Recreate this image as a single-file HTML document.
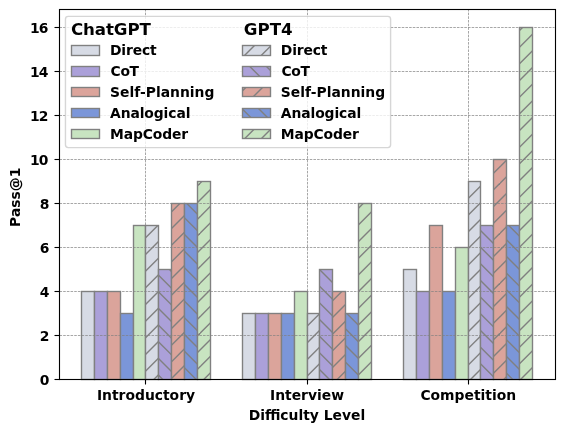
<!DOCTYPE html>
<html lang="en"><head><meta charset="utf-8"><title>Pass@1 by Difficulty Level</title>
<style>html,body{margin:0;padding:0;background:#fff}svg{display:block}</style></head>
<body>
<svg width="564" height="432" viewBox="0 0 564 432">
<defs><pattern id="hf" patternUnits="userSpaceOnUse" x="0" y="0" width="100" height="100"><g stroke="#808080" stroke-width="1.3889" stroke-linecap="square" fill="none"><line x1="-6.667" y1="-10.000" x2="-126.667" y2="110.000"/><line x1="10.000" y1="-10.000" x2="-110.000" y2="110.000"/><line x1="26.667" y1="-10.000" x2="-93.333" y2="110.000"/><line x1="43.333" y1="-10.000" x2="-76.667" y2="110.000"/><line x1="60.000" y1="-10.000" x2="-60.000" y2="110.000"/><line x1="76.667" y1="-10.000" x2="-43.333" y2="110.000"/><line x1="93.333" y1="-10.000" x2="-26.667" y2="110.000"/><line x1="110.000" y1="-10.000" x2="-10.000" y2="110.000"/><line x1="126.667" y1="-10.000" x2="6.667" y2="110.000"/><line x1="143.333" y1="-10.000" x2="23.333" y2="110.000"/><line x1="160.000" y1="-10.000" x2="40.000" y2="110.000"/><line x1="176.667" y1="-10.000" x2="56.667" y2="110.000"/><line x1="193.333" y1="-10.000" x2="73.333" y2="110.000"/><line x1="210.000" y1="-10.000" x2="90.000" y2="110.000"/><line x1="226.667" y1="-10.000" x2="106.667" y2="110.000"/></g></pattern><pattern id="hb" patternUnits="userSpaceOnUse" x="0" y="0" width="100" height="100"><g stroke="#808080" stroke-width="1.3889" stroke-linecap="square" fill="none"><line x1="-10.000" y1="-126.667" x2="110.000" y2="-6.667"/><line x1="-10.000" y1="-110.000" x2="110.000" y2="10.000"/><line x1="-10.000" y1="-93.333" x2="110.000" y2="26.667"/><line x1="-10.000" y1="-76.667" x2="110.000" y2="43.333"/><line x1="-10.000" y1="-60.000" x2="110.000" y2="60.000"/><line x1="-10.000" y1="-43.333" x2="110.000" y2="76.667"/><line x1="-10.000" y1="-26.667" x2="110.000" y2="93.333"/><line x1="-10.000" y1="-10.000" x2="110.000" y2="110.000"/><line x1="-10.000" y1="6.667" x2="110.000" y2="126.667"/><line x1="-10.000" y1="23.333" x2="110.000" y2="143.333"/><line x1="-10.000" y1="40.000" x2="110.000" y2="160.000"/><line x1="-10.000" y1="56.667" x2="110.000" y2="176.667"/><line x1="-10.000" y1="73.333" x2="110.000" y2="193.333"/><line x1="-10.000" y1="90.000" x2="110.000" y2="210.000"/><line x1="-10.000" y1="106.667" x2="110.000" y2="226.667"/></g></pattern>
<clipPath id="axc"><rect x="58.518" y="9.122" width="496.000" height="369.600"/></clipPath></defs>
<rect width="564" height="432" fill="#fff"/>
<g stroke="#808080" stroke-width="1.3889" stroke-linejoin="miter"><rect x="81.5" y="291.5" width="13.0" height="88.0" fill="#d7dbe5"/><rect x="94.5" y="291.5" width="13.0" height="88.0" fill="#aba0d9"/><rect x="107.5" y="291.5" width="13.0" height="88.0" fill="#dba49b"/><rect x="120.5" y="313.5" width="13.0" height="66.0" fill="#7b96d9"/><rect x="133.5" y="225.5" width="12.0" height="154.0" fill="#c8e4c1"/><rect x="145.5" y="225.5" width="13.0" height="154.0" fill="#d7dbe5" stroke="none"/><rect x="145.5" y="225.5" width="13.0" height="154.0" fill="url(#hf)" stroke="none"/><rect x="145.5" y="225.5" width="13.0" height="154.0" fill="none"/><rect x="158.5" y="269.5" width="13.0" height="110.0" fill="#aba0d9" stroke="none"/><rect x="158.5" y="269.5" width="13.0" height="110.0" fill="url(#hb)" stroke="none"/><rect x="158.5" y="269.5" width="13.0" height="110.0" fill="none"/><rect x="171.5" y="203.5" width="13.0" height="176.0" fill="#dba49b" stroke="none"/><rect x="171.5" y="203.5" width="13.0" height="176.0" fill="url(#hf)" stroke="none"/><rect x="171.5" y="203.5" width="13.0" height="176.0" fill="none"/><rect x="184.5" y="203.5" width="13.0" height="176.0" fill="#7b96d9" stroke="none"/><rect x="184.5" y="203.5" width="13.0" height="176.0" fill="url(#hb)" stroke="none"/><rect x="184.5" y="203.5" width="13.0" height="176.0" fill="none"/><rect x="197.5" y="181.5" width="13.0" height="198.0" fill="#c8e4c1" stroke="none"/><rect x="197.5" y="181.5" width="13.0" height="198.0" fill="url(#hf)" stroke="none"/><rect x="197.5" y="181.5" width="13.0" height="198.0" fill="none"/><rect x="242.5" y="313.5" width="13.0" height="66.0" fill="#d7dbe5"/><rect x="255.5" y="313.5" width="13.0" height="66.0" fill="#aba0d9"/><rect x="268.5" y="313.5" width="13.0" height="66.0" fill="#dba49b"/><rect x="281.5" y="313.5" width="13.0" height="66.0" fill="#7b96d9"/><rect x="294.5" y="291.5" width="13.0" height="88.0" fill="#c8e4c1"/><rect x="307.5" y="313.5" width="12.0" height="66.0" fill="#d7dbe5" stroke="none"/><rect x="307.5" y="313.5" width="12.0" height="66.0" fill="url(#hf)" stroke="none"/><rect x="307.5" y="313.5" width="12.0" height="66.0" fill="none"/><rect x="319.5" y="269.5" width="13.0" height="110.0" fill="#aba0d9" stroke="none"/><rect x="319.5" y="269.5" width="13.0" height="110.0" fill="url(#hb)" stroke="none"/><rect x="319.5" y="269.5" width="13.0" height="110.0" fill="none"/><rect x="332.5" y="291.5" width="13.0" height="88.0" fill="#dba49b" stroke="none"/><rect x="332.5" y="291.5" width="13.0" height="88.0" fill="url(#hf)" stroke="none"/><rect x="332.5" y="291.5" width="13.0" height="88.0" fill="none"/><rect x="345.5" y="313.5" width="13.0" height="66.0" fill="#7b96d9" stroke="none"/><rect x="345.5" y="313.5" width="13.0" height="66.0" fill="url(#hb)" stroke="none"/><rect x="345.5" y="313.5" width="13.0" height="66.0" fill="none"/><rect x="358.5" y="203.5" width="13.0" height="176.0" fill="#c8e4c1" stroke="none"/><rect x="358.5" y="203.5" width="13.0" height="176.0" fill="url(#hf)" stroke="none"/><rect x="358.5" y="203.5" width="13.0" height="176.0" fill="none"/><rect x="403.5" y="269.5" width="13.0" height="110.0" fill="#d7dbe5"/><rect x="416.5" y="291.5" width="13.0" height="88.0" fill="#aba0d9"/><rect x="429.5" y="225.5" width="13.0" height="154.0" fill="#dba49b"/><rect x="442.5" y="291.5" width="13.0" height="88.0" fill="#7b96d9"/><rect x="455.5" y="247.5" width="13.0" height="132.0" fill="#c8e4c1"/><rect x="468.5" y="181.5" width="12.0" height="198.0" fill="#d7dbe5" stroke="none"/><rect x="468.5" y="181.5" width="12.0" height="198.0" fill="url(#hf)" stroke="none"/><rect x="468.5" y="181.5" width="12.0" height="198.0" fill="none"/><rect x="480.5" y="225.5" width="13.0" height="154.0" fill="#aba0d9" stroke="none"/><rect x="480.5" y="225.5" width="13.0" height="154.0" fill="url(#hb)" stroke="none"/><rect x="480.5" y="225.5" width="13.0" height="154.0" fill="none"/><rect x="493.5" y="159.5" width="13.0" height="220.0" fill="#dba49b" stroke="none"/><rect x="493.5" y="159.5" width="13.0" height="220.0" fill="url(#hf)" stroke="none"/><rect x="493.5" y="159.5" width="13.0" height="220.0" fill="none"/><rect x="506.5" y="225.5" width="13.0" height="154.0" fill="#7b96d9" stroke="none"/><rect x="506.5" y="225.5" width="13.0" height="154.0" fill="url(#hb)" stroke="none"/><rect x="506.5" y="225.5" width="13.0" height="154.0" fill="none"/><rect x="519.5" y="27.5" width="13.0" height="352.0" fill="#c8e4c1" stroke="none"/><rect x="519.5" y="27.5" width="13.0" height="352.0" fill="url(#hf)" stroke="none"/><rect x="519.5" y="27.5" width="13.0" height="352.0" fill="none"/></g>
<g clip-path="url(#axc)" stroke="#808080" stroke-width="0.6944" stroke-dasharray="2.569 1.111" fill="none"><line x1="145.5" y1="379.5" x2="145.5" y2="9.5"/><line x1="307.5" y1="379.5" x2="307.5" y2="9.5"/><line x1="468.5" y1="379.5" x2="468.5" y2="9.5"/><line x1="59.5" y1="379.5" x2="555.5" y2="379.5"/><line x1="59.5" y1="335.5" x2="555.5" y2="335.5"/><line x1="59.5" y1="291.5" x2="555.5" y2="291.5"/><line x1="59.5" y1="247.5" x2="555.5" y2="247.5"/><line x1="59.5" y1="203.5" x2="555.5" y2="203.5"/><line x1="59.5" y1="159.5" x2="555.5" y2="159.5"/><line x1="59.5" y1="115.5" x2="555.5" y2="115.5"/><line x1="59.5" y1="71.5" x2="555.5" y2="71.5"/><line x1="59.5" y1="27.5" x2="555.5" y2="27.5"/></g>
<g stroke="#000" stroke-width="1.1111" fill="none"><line x1="145.5" y1="379.00" x2="145.5" y2="384.50"/><line x1="307.5" y1="379.00" x2="307.5" y2="384.50"/><line x1="468.5" y1="379.00" x2="468.5" y2="384.50"/><line x1="54.50" y1="379.5" x2="60.00" y2="379.5"/><line x1="54.50" y1="335.5" x2="60.00" y2="335.5"/><line x1="54.50" y1="291.5" x2="60.00" y2="291.5"/><line x1="54.50" y1="247.5" x2="60.00" y2="247.5"/><line x1="54.50" y1="203.5" x2="60.00" y2="203.5"/><line x1="54.50" y1="159.5" x2="60.00" y2="159.5"/><line x1="54.50" y1="115.5" x2="60.00" y2="115.5"/><line x1="54.50" y1="71.5" x2="60.00" y2="71.5"/><line x1="54.50" y1="27.5" x2="60.00" y2="27.5"/></g>
<rect x="59.5" y="9.5" width="496.0" height="370.0" fill="none" stroke="#000" stroke-width="1.1111"/>
<g font-family="'DejaVu Sans', 'Liberation Sans', sans-serif" font-weight="bold" font-size="13.8889px" fill="#000"><text x="145.98" y="400.00" text-anchor="middle">Introductory</text><text x="307.02" y="400.00" text-anchor="middle">Interview</text><text x="468.26" y="400.00" text-anchor="middle">Competition</text><text x="39.73" y="384.92">0</text><text x="39.73" y="340.92">2</text><text x="39.73" y="296.92">4</text><text x="39.73" y="252.92">6</text><text x="39.73" y="208.92">8</text><text x="30.07 38.73" y="164.92">10</text><text x="30.07 38.73" y="120.92">12</text><text x="30.07 38.73" y="76.92">14</text><text x="30.07 38.73" y="32.92">16</text><text x="306.92" y="419.60" text-anchor="middle">Difficulty Level</text><text transform="translate(20.30 197.30) rotate(-90)" text-anchor="middle">Pass@1</text></g>
<rect x="65.46" y="16.40" width="325.14" height="131.20" rx="2.78" ry="2.78" fill="#fff" fill-opacity="0.8" stroke="#ccc" stroke-opacity="0.8" stroke-width="1.3889"/>
<g stroke="#808080" stroke-width="1.3889" stroke-linejoin="miter"><rect x="71.5" y="45.5" width="28.0" height="10.0" fill="#d7dbe5" stroke="none"/><rect x="71.5" y="45.5" width="28.0" height="10.0" fill="none"/><rect x="71.5" y="66.5" width="28.0" height="10.0" fill="#aba0d9" stroke="none"/><rect x="71.5" y="66.5" width="28.0" height="10.0" fill="none"/><rect x="71.5" y="87.5" width="28.0" height="9.0" fill="#dba49b" stroke="none"/><rect x="71.5" y="87.5" width="28.0" height="9.0" fill="none"/><rect x="71.5" y="108.5" width="28.0" height="9.0" fill="#7b96d9" stroke="none"/><rect x="71.5" y="108.5" width="28.0" height="9.0" fill="none"/><rect x="71.5" y="129.5" width="28.0" height="9.0" fill="#c8e4c1" stroke="none"/><rect x="71.5" y="129.5" width="28.0" height="9.0" fill="none"/><rect x="242.5" y="45.5" width="28.0" height="10.0" fill="#d7dbe5" stroke="none"/><rect x="242.5" y="45.5" width="28.0" height="10.0" fill="url(#hf)" stroke="none"/><rect x="242.5" y="45.5" width="28.0" height="10.0" fill="none"/><rect x="242.5" y="66.5" width="28.0" height="10.0" fill="#aba0d9" stroke="none"/><rect x="242.5" y="66.5" width="28.0" height="10.0" fill="url(#hb)" stroke="none"/><rect x="242.5" y="66.5" width="28.0" height="10.0" fill="none"/><rect x="242.5" y="87.5" width="28.0" height="9.0" fill="#dba49b" stroke="none"/><rect x="242.5" y="87.5" width="28.0" height="9.0" fill="url(#hf)" stroke="none"/><rect x="242.5" y="87.5" width="28.0" height="9.0" fill="none"/><rect x="242.5" y="108.5" width="28.0" height="9.0" fill="#7b96d9" stroke="none"/><rect x="242.5" y="108.5" width="28.0" height="9.0" fill="url(#hb)" stroke="none"/><rect x="242.5" y="108.5" width="28.0" height="9.0" fill="none"/><rect x="242.5" y="129.5" width="28.0" height="9.0" fill="#c8e4c1" stroke="none"/><rect x="242.5" y="129.5" width="28.0" height="9.0" fill="url(#hf)" stroke="none"/><rect x="242.5" y="129.5" width="28.0" height="9.0" fill="none"/></g>
<g font-family="'DejaVu Sans', 'Liberation Sans', sans-serif" font-weight="bold" font-size="13.8889px" fill="#000"><text x="110.00" y="55.00" letter-spacing="-0.15">Direct</text><text x="110.60" y="76.00" letter-spacing="-0.35">CoT</text><text x="110.00" y="97.00" letter-spacing="0.00">Self-Planning</text><text x="110.00" y="118.00" letter-spacing="-0.10">Analogical</text><text x="110.00" y="139.00" letter-spacing="-0.12">MapCoder</text><text x="280.80" y="55.00" letter-spacing="-0.15">Direct</text><text x="281.40" y="76.00" letter-spacing="-0.35">CoT</text><text x="280.80" y="97.00" letter-spacing="0.00">Self-Planning</text><text x="280.80" y="118.00" letter-spacing="-0.10">Analogical</text><text x="280.80" y="139.00" letter-spacing="-0.12">MapCoder</text><text transform="translate(71.00 35.00) scale(1 0.940)" font-size="16.6670px" letter-spacing="-0.1">ChatGPT</text><text transform="translate(243.80 35.00) scale(1 0.940)" font-size="16.6670px">GPT4</text></g>
</svg>
</body></html>
